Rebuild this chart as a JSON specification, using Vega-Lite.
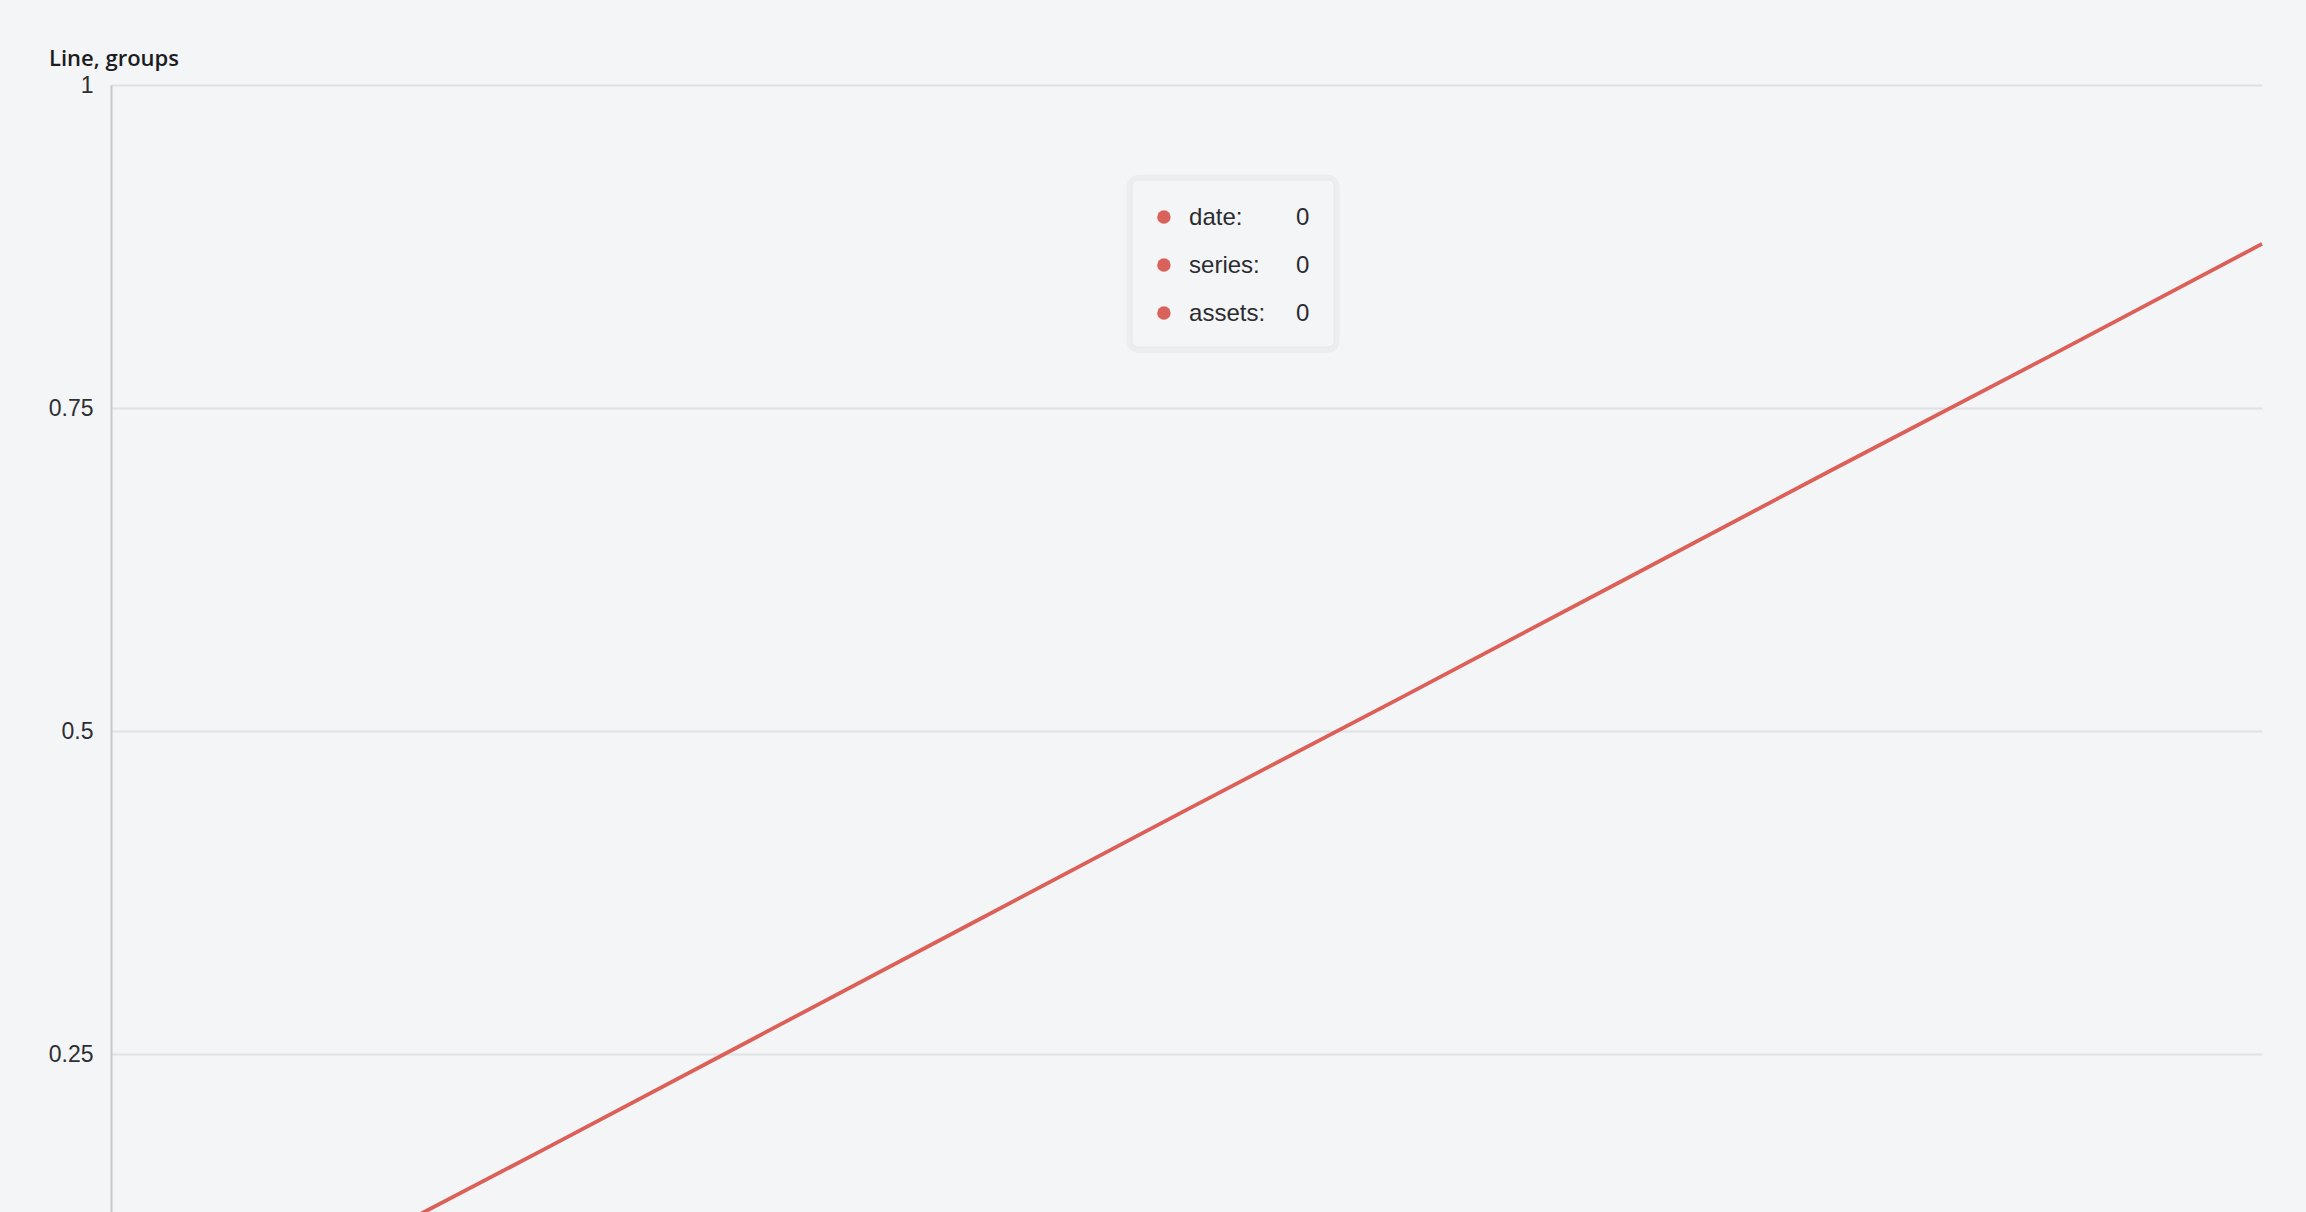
{
  "$schema": "https://vega.github.io/schema/vega-lite/v6.json",
  "autosize": {"type": "none"},
  "width": 2151,
  "height": 1292,
  "padding": {"left": 111, "top": 85, "right": 44, "bottom": 0},
  "background": "#f4f5f7",
  "title": {
    "text": "Line, groups",
    "anchor": "start",
    "frame": "group",
    "dx": -62,
    "dy": 32,
    "baseline": "alphabetic",
    "offset": 18,
    "font": "Open Sans",
    "fontSize": 22,
    "fontWeight": 600,
    "color": "#1b1d21"
  },
  "data": {
    "values": [
      {"date": 0, "series": "0", "assets": 0},
      {"date": 1, "series": "0", "assets": 0.088},
      {"date": 2, "series": "0", "assets": 0.175},
      {"date": 3, "series": "0", "assets": 0.263},
      {"date": 4, "series": "0", "assets": 0.351},
      {"date": 5, "series": "0", "assets": 0.439},
      {"date": 6, "series": "0", "assets": 0.526},
      {"date": 7, "series": "0", "assets": 0.614},
      {"date": 8, "series": "0", "assets": 0.702},
      {"date": 9, "series": "0", "assets": 0.789},
      {"date": 10, "series": "0", "assets": 0.877}
    ]
  },
  "layer": [
    {
      "mark": {"type": "line", "strokeWidth": 3.8},
      "encoding": {
        "x": {
          "field": "date",
          "type": "quantitative",
          "scale": {"domain": [0, 10], "nice": false},
          "axis": null
        },
        "y": {
          "field": "assets",
          "type": "quantitative",
          "scale": {"domain": [0, 1], "nice": false},
          "axis": {
            "title": null,
            "values": [0.25, 0.5, 0.75, 1],
            "format": "~g",
            "ticks": false,
            "labelPadding": 18,
            "labelFont": "Liberation Sans",
            "labelFontSize": 23,
            "labelColor": "#2d2f33",
            "domainColor": "#c6c8cc",
            "domainWidth": 2,
            "gridColor": "#dfe1e4",
            "gridWidth": 2
          }
        },
        "color": {
          "field": "series",
          "type": "nominal",
          "scale": {"range": ["#dc5f58"]},
          "legend": null
        }
      }
    },
    {
      "data": {"values": [{}]},
      "mark": {"type": "rect", "cornerRadius": 12, "fill": "#000000", "opacity": 0.03},
      "encoding": {
        "x": {"datum": 4.721},
        "x2": {"datum": 5.712},
        "y": {"datum": 0.9305},
        "y2": {"datum": 0.7925}
      }
    },
    {
      "data": {"values": [{}]},
      "mark": {"type": "rect", "cornerRadius": 6, "fill": "#f4f5f7", "stroke": "#e6e8eb", "strokeWidth": 1},
      "encoding": {
        "x": {"datum": 4.747},
        "x2": {"datum": 5.686},
        "y": {"datum": 0.9265},
        "y2": {"datum": 0.7972}
      }
    },
    {
      "data": {"values": [{}]},
      "mark": {"type": "point", "filled": true, "size": 180, "color": "#da625c", "opacity": 1},
      "encoding": {"x": {"datum": 4.895}, "y": {"datum": 0.8978}}
    },
    {
      "data": {"values": [{}]},
      "mark": {"type": "point", "filled": true, "size": 180, "color": "#da625c", "opacity": 1},
      "encoding": {"x": {"datum": 4.895}, "y": {"datum": 0.8607}}
    },
    {
      "data": {"values": [{}]},
      "mark": {"type": "point", "filled": true, "size": 180, "color": "#da625c", "opacity": 1},
      "encoding": {"x": {"datum": 4.895}, "y": {"datum": 0.8235}}
    },
    {
      "data": {"values": [{}]},
      "mark": {
        "type": "text",
        "align": "left",
        "baseline": "middle",
        "font": "Liberation Sans",
        "fontSize": 24,
        "lineHeight": 48,
        "color": "#2a2c30"
      },
      "encoding": {
        "x": {"datum": 5.012},
        "y": {"datum": 0.8971},
        "text": {"value": ["date:", "series:", "assets:"]}
      }
    },
    {
      "data": {"values": [{}]},
      "mark": {
        "type": "text",
        "align": "right",
        "baseline": "middle",
        "font": "Liberation Sans",
        "fontSize": 24,
        "lineHeight": 48,
        "color": "#2a2c30"
      },
      "encoding": {
        "x": {"datum": 5.571},
        "y": {"datum": 0.8971},
        "text": {"value": ["0", "0", "0"]}
      }
    }
  ],
  "config": {"view": {"stroke": null}}
}
